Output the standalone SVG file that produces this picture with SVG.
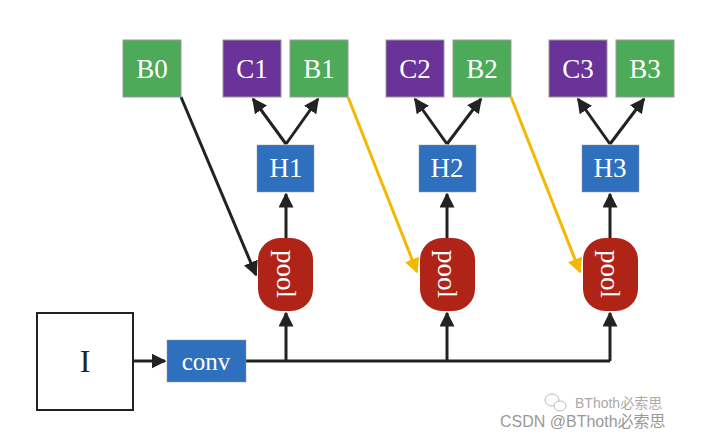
<svg xmlns="http://www.w3.org/2000/svg" width="708" height="438" viewBox="0 0 708 438">
<defs>
<marker id="ah" viewBox="0 0 10 10" refX="9" refY="5" markerWidth="5" markerHeight="5" orient="auto"><path d="M0,0 L10,5 L0,10 z" fill="#222"/></marker>
<marker id="ay" viewBox="0 0 10 10" refX="9" refY="5" markerWidth="5" markerHeight="5" orient="auto"><path d="M0,0 L10,5 L0,10 z" fill="#f5b800"/></marker>
<style>
.t{font-family:"Liberation Serif",serif;font-size:27px;fill:#fff;text-anchor:middle;dominant-baseline:central}
.g{fill:#4caa58;stroke:#999;stroke-width:1}
.p{fill:#6a3399;stroke:#999;stroke-width:1}
.b{fill:#2e6fbe;stroke:#999;stroke-width:0.5}
.r{fill:#b02418}
.k{stroke:#222;stroke-width:3;fill:none}
.y{stroke:#f5b800;stroke-width:3;fill:none}
</style>
</defs>
<rect width="708" height="438" fill="#fff"/>
<g id="connectors">
<line class="k" x1="133" y1="361" x2="165" y2="361" marker-end="url(#ah)"/>
<polyline class="k" points="246,361 610,361"/>
<line class="k" x1="286" y1="361" x2="286" y2="313" marker-end="url(#ah)"/>
<line class="k" x1="447" y1="361" x2="447" y2="313" marker-end="url(#ah)"/>
<line class="k" x1="610" y1="361" x2="610" y2="313" marker-end="url(#ah)"/>
<line class="k" x1="286" y1="238" x2="286" y2="194" marker-end="url(#ah)"/>
<line class="k" x1="447" y1="238" x2="447" y2="194" marker-end="url(#ah)"/>
<line class="k" x1="610" y1="238" x2="610" y2="194" marker-end="url(#ah)"/>
<line class="k" x1="286" y1="144" x2="253" y2="99" marker-end="url(#ah)"/>
<line class="k" x1="286" y1="144" x2="318" y2="99" marker-end="url(#ah)"/>
<line class="k" x1="447" y1="144" x2="415" y2="99" marker-end="url(#ah)"/>
<line class="k" x1="447" y1="144" x2="481" y2="99" marker-end="url(#ah)"/>
<line class="k" x1="610" y1="144" x2="578" y2="99" marker-end="url(#ah)"/>
<line class="k" x1="610" y1="144" x2="644" y2="99" marker-end="url(#ah)"/>
<line class="k" x1="181" y1="97" x2="256" y2="275" marker-end="url(#ah)"/>
<line class="y" x1="348" y1="97" x2="417" y2="272" marker-end="url(#ay)"/>
<line class="y" x1="511" y1="97" x2="580" y2="272" marker-end="url(#ay)"/>
</g>
<g id="I"><rect x="37" y="313" width="96" height="97" fill="#fff" stroke="#222" stroke-width="2"/><text class="t" x="85" y="361" style="fill:#222;font-size:32px">I</text></g>
<g id="conv"><rect class="b" x="167" y="340" width="79" height="42"/><text class="t" x="206" y="361" style="font-size:25px">conv</text></g>
<g id="B0"><rect class="g" x="123" y="40" width="58" height="57"/><text class="t" x="152" y="69">B0</text></g>
<g id="C1"><rect class="p" x="223" y="40" width="58" height="57"/><text class="t" x="252" y="69">C1</text></g>
<g id="B1"><rect class="g" x="290" y="40" width="58" height="57"/><text class="t" x="319" y="69">B1</text></g>
<g id="C2"><rect class="p" x="386" y="40" width="58" height="57"/><text class="t" x="415" y="69">C2</text></g>
<g id="B2"><rect class="g" x="453" y="40" width="58" height="57"/><text class="t" x="482" y="69">B2</text></g>
<g id="C3"><rect class="p" x="549" y="40" width="58" height="57"/><text class="t" x="578" y="69">C3</text></g>
<g id="B3"><rect class="g" x="616" y="40" width="58" height="57"/><text class="t" x="645" y="69">B3</text></g>
<g id="H1"><rect class="b" x="257" y="145" width="57" height="47"/><text class="t" x="286" y="168">H1</text></g>
<g id="H2"><rect class="b" x="419" y="145" width="57" height="47"/><text class="t" x="447" y="168">H2</text></g>
<g id="H3"><rect class="b" x="582" y="145" width="57" height="47"/><text class="t" x="610" y="168">H3</text></g>
<g id="pool1"><rect class="r" x="258" y="238" width="55" height="73" rx="22"/><text class="t" transform="translate(286,274) rotate(90)">pool</text></g>
<g id="pool2"><rect class="r" x="420" y="238" width="55" height="73" rx="22"/><text class="t" transform="translate(447,274) rotate(90)">pool</text></g>
<g id="pool3"><rect class="r" x="583" y="238" width="55" height="73" rx="22"/><text class="t" transform="translate(610,274) rotate(90)">pool</text></g>
<g id="watermark" font-family="Liberation Sans,Noto Sans CJK SC,sans-serif" fill="#aaa">
<ellipse cx="552" cy="400" rx="7" ry="6" fill="none" stroke="#bbb"/>
<ellipse cx="560" cy="406" rx="6" ry="5" fill="#fff" stroke="#bbb"/>
<text x="575" y="408" font-size="14">BThoth必索思</text>
<text x="500" y="427" font-size="16" fill="#999">CSDN @BThoth必索思</text>
</g>
</svg>
